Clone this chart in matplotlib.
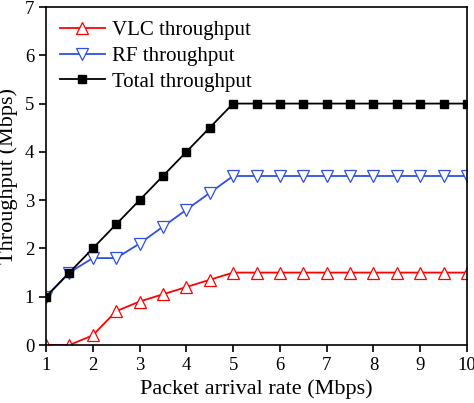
import matplotlib
matplotlib.use("Agg")
import matplotlib.pyplot as plt

rate = [1, 1.5, 2, 2.5, 3, 3.5, 4, 4.5, 5, 5.5, 6, 6.5, 7, 7.5, 8, 8.5, 9, 9.5, 10]
vlc = [0, 0, 0.2, 0.7, 0.9, 1.05, 1.2, 1.35, 1.5, 1.5, 1.5, 1.5, 1.5, 1.5, 1.5, 1.5, 1.5, 1.5, 1.5]
rf = [1, 1.5, 1.8, 1.8, 2.1, 2.45, 2.8, 3.15, 3.5, 3.5, 3.5, 3.5, 3.5, 3.5, 3.5, 3.5, 3.5, 3.5, 3.5]
total = [1, 1.5, 2, 2.5, 3, 3.5, 4, 4.5, 5, 5, 5, 5, 5, 5, 5, 5, 5, 5, 5]

plt.rcParams['font.family'] = ['Liberation Serif', 'DejaVu Serif']

fig = plt.figure(figsize=(4.74, 4.03), dpi=100)
ax = fig.add_axes([46 / 474, 1 - 345 / 403, (467 - 46) / 474, (345 - 7) / 403])

ax.plot(rate, vlc, color='red', lw=1.3, marker='^', ms=8, mfc='white',
        mec='red', mew=0.9, label='VLC throughput')
ax.plot(rate, rf, color='#2f4fe0', lw=1.3, marker='v', ms=8, mfc='white',
        mec='#2f4fe0', mew=0.9, label='RF throughput')
ax.plot(rate, total, color='black', lw=1.3, marker='s', ms=6,
        label='Total throughput')

ax.set_xlim(1, 10)
ax.set_ylim(0, 7)
ax.set_xticks(range(1, 11))
ax.set_yticks(range(0, 8))
ax.tick_params(direction='out', length=5, width=1.2, labelsize=13.5)
for s in ax.spines.values():
    s.set_linewidth(1.2)

ax.set_xlabel('Packet arrival rate (Mbps)', fontsize=16, labelpad=4)
ax.set_ylabel('Throughput (Mbps)', fontsize=16, labelpad=5)

ax.legend(loc='upper left', frameon=False, fontsize=15, handlelength=2.2,
          handletextpad=0.3, labelspacing=0.3, borderaxespad=0.25)

fig.savefig('out.png', dpi=100)
